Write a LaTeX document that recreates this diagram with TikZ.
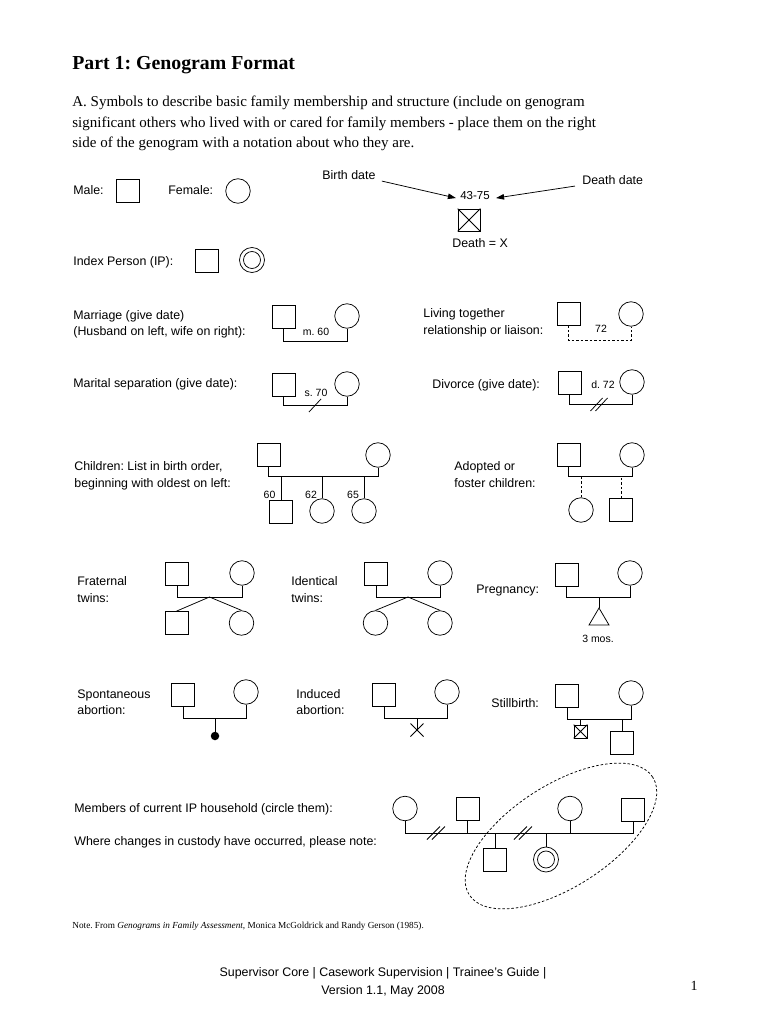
\documentclass[tikz,border=0pt]{standalone}
\usepackage{fontspec}
\setmainfont{Liberation Serif}
\setsansfont{Liberation Sans}
\usetikzlibrary{arrows.meta}
\frenchspacing
\begin{document}
\begin{tikzpicture}[x=1pt,y=-1pt,line width=0.75pt,
  txt/.style={font=\sffamily\fontsize{12.4}{14}\selectfont, inner sep=0pt, anchor=base west},
  sml/.style={font=\sffamily\fontsize{10.5}{12}\selectfont, inner sep=0pt, anchor=base},
  para/.style={font=\rmfamily\fontsize{15}{17}\selectfont, inner sep=0pt, anchor=base west},
  male/.style={draw, rectangle, minimum size=23pt, inner sep=0pt},
  female/.style={draw, circle, minimum size=24.5pt, inner sep=0pt},
  arr/.style={-{Triangle[length=8pt,width=5.5pt]}},
  dsh/.style={dash pattern=on 2.5pt off 2pt}]
\useasboundingbox (0,0) rectangle (768,1024);
\fill[white] (0,0) rectangle (768,1024);
% title and intro
\node[font=\rmfamily\bfseries\fontsize{19.8}{23}\selectfont, inner sep=0pt, anchor=base west] (title) at (72,70) {Part 1: Genogram Format};
\node[para] (p1) at (72,107) {A. Symbols to describe basic family membership and structure (include on genogram};
\node[para] (p2) at (72,127.5) {significant others who lived with or cared for family members - place them on the right};
\node[para] (p3) at (72,148) {side of the genogram with a notation about who they are.};
% row 1
\node[txt] (lm) at (73,194.5) {Male:};
\node[male] (m1) at (127.5,190.5) {};
\node[txt] (lf) at (168,194.5) {Female:};
\node[female] (f1) at (238,191) {};
\node[txt] (bd) at (322,179.5) {Birth date};
\node[txt] (dd) at (582,184.5) {Death date};
\node[font=\sffamily\fontsize{11.5}{13}\selectfont, inner sep=0pt, anchor=base] (yr) at (475,200) {43-75};
\node[male, minimum size=22pt] (dx) at (469,220) {};
\draw (dx.north west) -- (dx.south east) (dx.north east) -- (dx.south west);
\node[txt] (dlab) at (452,247.5) {Death = X};
\draw[arr] ([shift={(6,6)}]bd.east) -- ([shift={(-4,2)}]yr.west);
\draw[arr] ([shift={(-7,6)}]dd.west) -- ([shift={(6,2)}]yr.east);
\node[txt] (lip) at (73,265.5) {Index Person (IP):};
\node[male] (ip1) at (206.5,260.5) {};
\node[female, minimum size=25pt] (ip2) at (252,260) {};
\draw (ip2.center) circle[radius=8.5pt];
% marriage
\node[txt] (lma1) at (73,319.5) {Marriage (give date)};
\node[txt] (lma2) at (73,335.5) {(Husband on left, wife on right):};
\node[male] (ma1) at (283.5,316.5) {};
\node[female] (ma2) at (347,316) {};
\draw (ma1.south) -- ++(0,13) -| (ma2.south);
\node[sml] (mdate) at (316,335) {m. 60};
% living together
\node[txt] (llt1) at (423,317.5) {Living together};
\node[txt] (llt2) at (423,334.5) {relationship or liaison:};
\node[male] (lt1) at (568.5,313.5) {};
\node[female] (lt2) at (631,314) {};
\draw[dsh] (lt1.south) -- ++(0,15) -| (lt2.south);
\node[sml] (ltdate) at (601,332) {72};
% separation
\node[txt] (lsep) at (73,387.5) {Marital separation (give date):};
\node[male] (se1) at (283.5,384.5) {};
\node[female] (se2) at (347,384) {};
\draw (se1.south) -- ++(0,9) -| (se2.south);
\node[sml] (sdate) at (316,396) {s. 70};
\coordinate (sepx) at (315,405.5);
\draw ([shift={(-6,6.5)}]sepx) -- ([shift={(6,-6.5)}]sepx);
% divorce
\node[txt] (ldiv) at (432,388.5) {Divorce (give date):};
\node[male] (dv1) at (569.5,382.5) {};
\node[female] (dv2) at (632,382) {};
\draw (dv1.south) -- ++(0,10) -| (dv2.south);
\node[sml] (ddate) at (603,388) {d. 72};
\coordinate (divx) at (599,404.5);
\draw ([shift={(-8.5,6.5)}]divx) -- ([shift={(3.5,-6.5)}]divx);
\draw ([shift={(-3.5,6.5)}]divx) -- ([shift={(8.5,-6.5)}]divx);
% children
\node[txt] (lch1) at (74,470.5) {Children: List in birth order,};
\node[txt] (lch2) at (74,487.5) {beginning with oldest on left:};
\node[male] (c0) at (268.5,454.5) {};
\node[female] (c5) at (378,455) {};
\draw (c0.south) -- ++(0,10) -| (c5.south);
\coordinate (cbar) at (0,476);
\node[male] (k1) at (281,511.5) {};
\node[female] (k2) at (322,511) {};
\node[female] (k3) at (364,511) {};
\draw (k1.north) -- (k1.north |- cbar);
\draw (k2.north) -- (k2.north |- cbar);
\draw (k3.north) -- (k3.north |- cbar);
\node[sml] (y1) at (269.5,498) {60};
\node[sml] (y2) at (311,498) {62};
\node[sml] (y3) at (353,498) {65};
% adopted
\node[txt] (lad1) at (454,470.5) {Adopted or};
\node[txt] (lad2) at (454,487.5) {foster children:};
\node[male] (a0) at (568.5,454.5) {};
\node[female] (a5) at (632,455) {};
\draw (a0.south) -- ++(0,10) -| (a5.south);
\coordinate (abar) at (0,476);
\node[female] (a1) at (581,510) {};
\node[male] (a2) at (621,510) {};
\draw[dsh] (a1.north) -- (a1.north |- abar);
\draw[dsh] (a2.north) -- (a2.north |- abar);
% fraternal twins
\node[txt] (lft1) at (77,585.5) {Fraternal};
\node[txt] (lft2) at (77,602.5) {twins:};
\node[male] (t0) at (177,574) {};
\node[female] (t5) at (242,573) {};
\draw (t0.south) -- ++(0,11) -| (t5.south);
\coordinate (tmid) at (209.5,597);
\node[male] (t1) at (176.5,623) {};
\node[female] (t2) at (241.5,623) {};
\draw (t1.north) -- (tmid) -- (t2.north);
% identical twins
\node[txt] (lit1) at (291,585.5) {Identical};
\node[txt] (lit2) at (291,602.5) {twins:};
\node[male] (i0) at (376,574) {};
\node[female] (i5) at (440,573) {};
\draw (i0.south) -- ++(0,11) -| (i5.south);
\coordinate (imid) at (408,597);
\node[female] (i1) at (375.5,623) {};
\node[female] (i2) at (440,623) {};
\draw (i1.north) -- (imid) -- (i2.north);
% pregnancy
\node[txt] (lpr) at (476,593.5) {Pregnancy:};
\node[male] (pr0) at (566.5,574.5) {};
\node[female] (pr5) at (630,573) {};
\draw (pr0.south) -- ++(0,11) -| (pr5.south);
\coordinate (pmid) at (599,597);
\coordinate (papex) at (599,608);
\draw (pmid) -- (papex);
\draw (papex) -- ++(10,17) -- ++(-20,0) -- cycle;
\node[sml] (pmos) at (598,642) {3 mos.};
% spontaneous abortion
\node[txt] (lsp1) at (77,698.5) {Spontaneous};
\node[txt] (lsp2) at (77,714.5) {abortion:};
\node[male] (sp0) at (183,694.5) {};
\node[female] (sp5) at (246,692) {};
\draw (sp0.south) -- ++(0,12) -| (sp5.south);
\coordinate (spmid) at (215,718);
\node[circle, fill=black, minimum size=8.5pt, inner sep=0pt] (spdot) at (215,736) {};
\draw (spmid) -- (spdot.center);
% induced abortion
\node[txt] (lin1) at (296,698.5) {Induced};
\node[txt] (lin2) at (296,714.5) {abortion:};
\node[male] (in0) at (384,694.5) {};
\node[female] (in5) at (447,692) {};
\draw (in0.south) -- ++(0,12) -| (in5.south);
\coordinate (inmid) at (417,718);
\coordinate (inx) at (417,730);
\draw (inmid) -- (inx);
\draw ([shift={(-6.5,-6.5)}]inx) -- ([shift={(6.5,6.5)}]inx);
\draw ([shift={(6.5,-6.5)}]inx) -- ([shift={(-6.5,6.5)}]inx);
% stillbirth
\node[txt] (lst) at (491,707.5) {Stillbirth:};
\node[male] (st0) at (567,695.5) {};
\node[female] (st5) at (631,693) {};
\draw (st0.south) -- ++(0,12) -| (st5.south);
\coordinate (stbar) at (0,719);
\node[draw, rectangle, minimum size=13pt, inner sep=0pt] (st1) at (580.5,731.5) {};
\draw (st1.north west) -- (st1.south east) (st1.north east) -- (st1.south west);
\node[male] (st2) at (622,742.5) {};
\draw (st1.north) -- (st1.north |- stbar);
\draw (st2.north) -- (st2.north |- stbar);
% household
\node[txt] (lho1) at (74,812.5) {Members of current IP household (circle them):};
\node[txt] (lho2) at (74,845.5) {Where changes in custody have occurred, please note:};
\node[female] (h1) at (405,808.5) {};
\node[male] (h2) at (467.5,808.5) {};
\node[female] (h3) at (570,808.5) {};
\node[male] (h4) at (633,810) {};
\coordinate (hbar) at (0,833);
\draw (h1.south) -- (h1.south |- hbar) -- (h4.south |- hbar) -- (h4.south);
\draw (h2.south) -- (h2.south |- hbar);
\draw (h3.south) -- (h3.south |- hbar);
\node[male] (h5) at (495,859.5) {};
\node[female, minimum size=25pt] (h6) at (546,859.5) {};
\draw (h6.center) circle[radius=8.5pt];
\draw (h5.north) -- (h5.north |- hbar);
\draw (h6.north) -- (h6.north |- hbar);
\coordinate (hs1) at (436,833);
\coordinate (hs2) at (523,833);
\draw ([shift={(-9,6.5)}]hs1) -- ([shift={(4,-6.5)}]hs1);
\draw ([shift={(-4,6.5)}]hs1) -- ([shift={(9,-6.5)}]hs1);
\draw ([shift={(-9,6.5)}]hs2) -- ([shift={(4,-6.5)}]hs2);
\draw ([shift={(-4,6.5)}]hs2) -- ([shift={(9,-6.5)}]hs2);
\coordinate (ellc) at (561,836);
\draw[dsh, rotate around={32.7:(ellc)}] (ellc) ellipse [x radius=109pt, y radius=51pt];
% note and footer
\node[font=\rmfamily\fontsize{9.25}{11}\selectfont, inner sep=0pt, anchor=base west] (note) at (72,928) {Note. From \textit{Genograms in Family Assessment,} Monica McGoldrick and Randy Gerson (1985).};
\node[font=\sffamily\fontsize{12.4}{14}\selectfont, inner sep=0pt, anchor=base] (ft1) at (383,976.5) {Supervisor Core | Casework Supervision | Trainee's Guide |};
\node[font=\sffamily\fontsize{12.4}{14}\selectfont, inner sep=0pt, anchor=base] (ft2) at (383,994.5) {Version 1.1, May 2008};
\node[font=\rmfamily\fontsize{14}{16}\selectfont, inner sep=0pt, anchor=base] (pg) at (694,990) {1};
\end{tikzpicture}
\end{document}
